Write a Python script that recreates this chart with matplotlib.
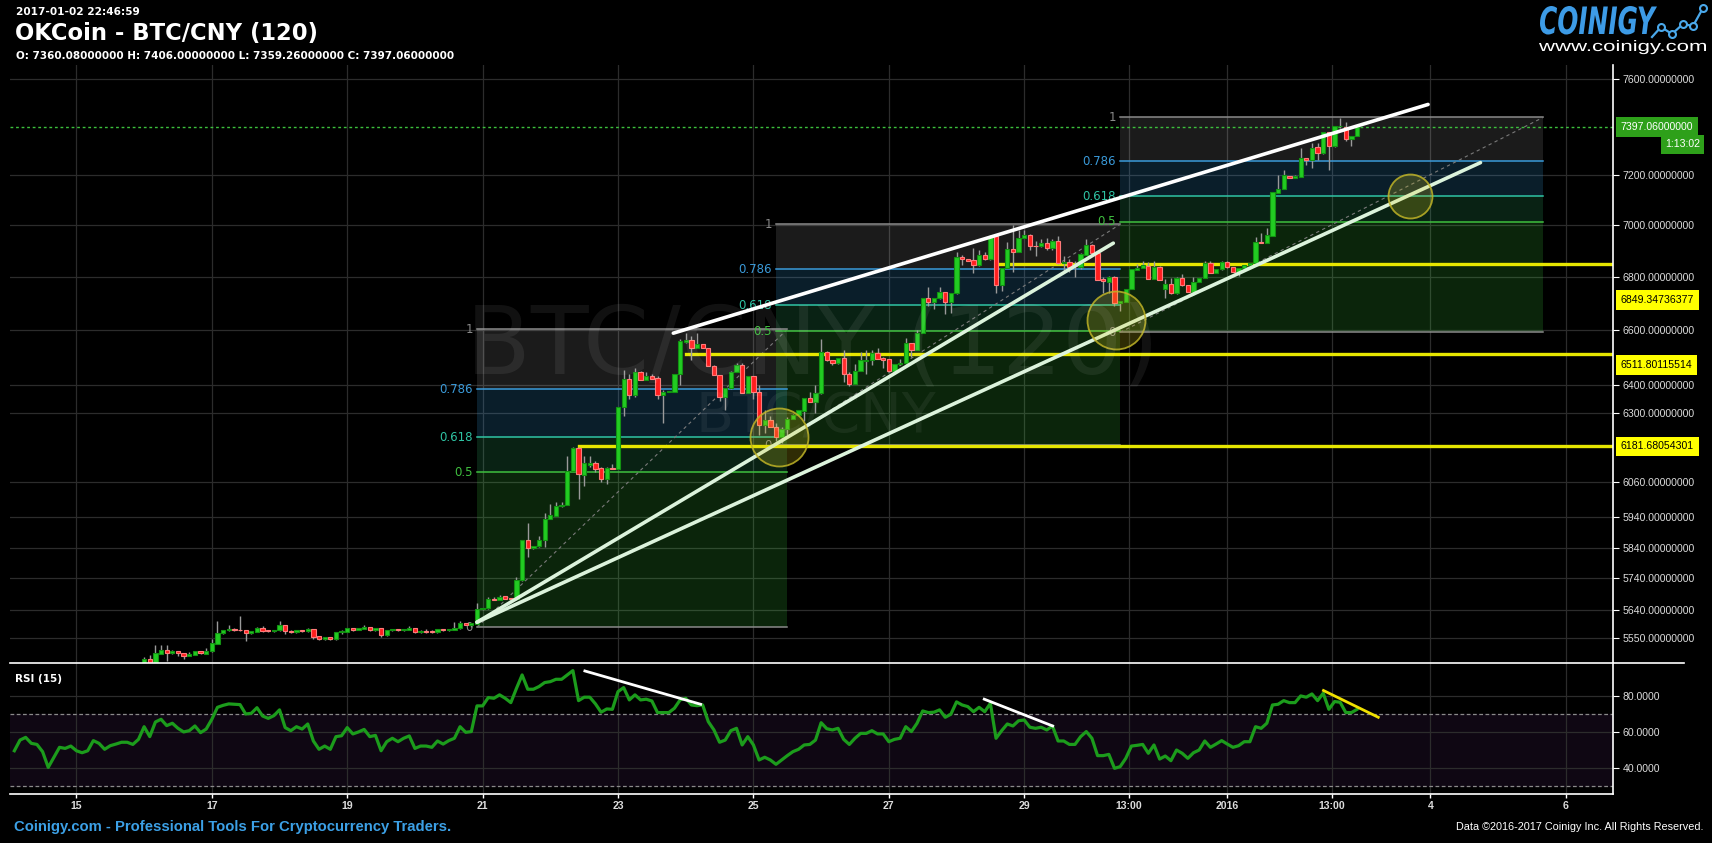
import numpy as np
import pandas as pd
import matplotlib
matplotlib.use("Agg")
import matplotlib.pyplot as plt
import matplotlib.dates as mdates
from matplotlib.lines import Line2D
from matplotlib.textpath import TextPath
from matplotlib.patches import PathPatch
from matplotlib.font_manager import FontProperties
from matplotlib.transforms import Affine2D

W, H = 1712, 843

# OKCoin BTC/CNY, 2h candles from 2016-12-16 00:00
opens = [5470, 5486, 5470, 5502, 5513, 5503, 5510, 5504, 5496, 5499, 5510, 5502,
         5509, 5533, 5565, 5574, 5578, 5576, 5575, 5565, 5569, 5582, 5574, 5571,
         5574, 5591, 5573, 5568, 5576, 5571, 5578, 5557, 5546, 5554, 5546, 5568,
         5569, 5581, 5575, 5579, 5584, 5574, 5581, 5559, 5574, 5578, 5574, 5575,
         5581, 5568, 5573, 5573, 5568, 5578, 5574, 5576, 5581, 5597, 5591, 5595,
         5641, 5644, 5673, 5671, 5682, 5676, 5672, 5735, 5864, 5838, 5845, 5864,
         5935, 5945, 5977, 5981, 6098, 6176, 6084, 6119, 6123, 6106, 6071, 6107,
         6105, 6319, 6422, 6363, 6447, 6417, 6431, 6423, 6363, 6375, 6375, 6439,
         6556, 6564, 6534, 6548, 6534, 6468, 6435, 6357, 6387, 6447, 6471, 6371,
         6431, 6375, 6255, 6275, 6249, 6213, 6243, 6279, 6291, 6307, 6351, 6339,
         6369, 6520, 6489, 6477, 6496, 6437, 6404, 6450, 6487, 6488, 6514, 6497,
         6492, 6450, 6473, 6477, 6551, 6527, 6588, 6718, 6706, 6718, 6741, 6706,
         6737, 6877, 6867, 6863, 6844, 6883, 6867, 6959, 6767, 6833, 6906, 6897,
         6950, 6963, 6920, 6917, 6932, 6911, 6939, 6855, 6856, 6843, 6839, 6884,
         6924, 6891, 6792, 6782, 6801, 6699, 6706, 6753, 6826, 6833, 6842, 6792,
         6839, 6754, 6773, 6737, 6795, 6767, 6744, 6782, 6795, 6852, 6814, 6829,
         6858, 6836, 6820, 6833, 6845, 6852, 6936, 6930, 6959, 7130, 7146, 7197,
         7190, 7193, 7270, 7262, 7314, 7289, 7376, 7317, 7400, 7397, 7347, 7360.08]
highs = [5491, 5498, 5529, 5529, 5529, 5512, 5511, 5505, 5507, 5511, 5511, 5518,
         5546, 5604, 5577, 5590, 5583, 5621, 5576, 5572, 5584, 5588, 5575, 5577,
         5604, 5592, 5574, 5577, 5577, 5581, 5579, 5558, 5555, 5555, 5570, 5575,
         5583, 5582, 5582, 5590, 5585, 5582, 5582, 5577, 5579, 5579, 5579, 5587,
         5582, 5574, 5578, 5574, 5579, 5579, 5579, 5601, 5604, 5598, 5598, 5660,
         5646, 5681, 5681, 5687, 5683, 5677, 5744, 5866, 5920, 5846, 5878, 5956,
         5985, 5993, 5990, 6150, 6180, 6180, 6147, 6147, 6132, 6112, 6112, 6122,
         6320, 6453, 6440, 6460, 6449, 6447, 6437, 6432, 6380, 6377, 6440, 6565,
         6590, 6577, 6590, 6549, 6535, 6470, 6436, 6388, 6450, 6480, 6480, 6432,
         6432, 6400, 6310, 6290, 6265, 6250, 6285, 6294, 6310, 6352, 6375, 6400,
         6565, 6521, 6491, 6497, 6525, 6445, 6475, 6520, 6525, 6525, 6535, 6500,
         6493, 6476, 6492, 6570, 6552, 6600, 6719, 6760, 6719, 6760, 6742, 6738,
         6895, 6885, 6868, 6912, 6905, 6895, 6960, 6960, 6834, 6935, 7000, 6980,
         6980, 6964, 6940, 6945, 6950, 6945, 6956, 6880, 6870, 6860, 6890, 6945,
         6926, 6892, 6800, 6802, 6802, 6710, 6755, 6830, 6850, 6860, 6858, 6860,
         6840, 6790, 6795, 6800, 6810, 6768, 6800, 6796, 6860, 6860, 6830, 6860,
         6859, 6837, 6834, 6846, 6853, 6955, 6970, 6990, 7134, 7200, 7220, 7198,
         7200, 7310, 7271, 7330, 7330, 7377, 7377, 7401, 7434, 7420, 7362, 7406]
lows = [5466, 5466, 5466, 5500, 5479, 5501, 5494, 5486, 5495, 5498, 5502, 5501,
        5508, 5532, 5564, 5573, 5573, 5571, 5541, 5564, 5568, 5570, 5570, 5570,
        5573, 5562, 5566, 5567, 5570, 5570, 5546, 5545, 5545, 5545, 5545, 5563,
        5568, 5573, 5574, 5578, 5573, 5573, 5553, 5558, 5573, 5573, 5573, 5574,
        5567, 5567, 5565, 5567, 5567, 5573, 5573, 5575, 5580, 5590, 5586, 5594,
        5639, 5642, 5669, 5669, 5673, 5671, 5671, 5730, 5810, 5836, 5843, 5841,
        5933, 5944, 5975, 5980, 6096, 6003, 6045, 6110, 6093, 6060, 6052, 6104,
        6104, 6290, 6350, 6355, 6416, 6416, 6419, 6350, 6265, 6374, 6374, 6400,
        6550, 6490, 6533, 6533, 6467, 6434, 6340, 6310, 6386, 6446, 6370, 6370,
        6350, 6222, 6230, 6248, 6200, 6195, 6222, 6278, 6290, 6270, 6338, 6300,
        6368, 6487, 6470, 6476, 6410, 6395, 6403, 6449, 6440, 6470, 6493, 6460,
        6449, 6440, 6472, 6476, 6500, 6526, 6587, 6690, 6680, 6717, 6660, 6665,
        6736, 6845, 6860, 6815, 6843, 6866, 6866, 6740, 6745, 6832, 6820, 6896,
        6949, 6905, 6880, 6916, 6905, 6905, 6850, 6820, 6820, 6800, 6830, 6883,
        6890, 6787, 6740, 6740, 6690, 6670, 6705, 6752, 6825, 6832, 6791, 6791,
        6787, 6720, 6736, 6736, 6766, 6743, 6743, 6781, 6794, 6813, 6813, 6828,
        6835, 6819, 6805, 6832, 6844, 6851, 6929, 6929, 6958, 7129, 7145, 7189,
        7189, 7192, 7240, 7230, 7260, 7288, 7220, 7316, 7395, 7340, 7320, 7359.26]
closes = [5486, 5470, 5504, 5514, 5503, 5510, 5503, 5496, 5501, 5510, 5503, 5511,
          5535, 5567, 5575, 5578, 5574, 5574, 5565, 5571, 5582, 5571, 5571, 5576,
          5591, 5571, 5568, 5576, 5571, 5579, 5555, 5546, 5554, 5546, 5569, 5571,
          5581, 5574, 5581, 5584, 5574, 5581, 5560, 5576, 5578, 5574, 5578, 5581,
          5568, 5573, 5570, 5568, 5578, 5574, 5578, 5582, 5597, 5591, 5597, 5642,
          5645, 5672, 5670, 5679, 5674, 5672, 5735, 5864, 5838, 5845, 5864, 5936,
          5948, 5977, 5983, 6098, 6176, 6086, 6123, 6123, 6105, 6071, 6106, 6105,
          6319, 6420, 6363, 6447, 6417, 6431, 6420, 6363, 6375, 6376, 6439, 6558,
          6564, 6534, 6548, 6534, 6468, 6435, 6357, 6387, 6447, 6471, 6371, 6431,
          6375, 6255, 6275, 6249, 6213, 6243, 6279, 6293, 6309, 6351, 6339, 6369,
          6520, 6489, 6477, 6496, 6437, 6404, 6450, 6488, 6489, 6514, 6494, 6490,
          6450, 6475, 6480, 6551, 6527, 6588, 6718, 6706, 6718, 6741, 6706, 6737,
          6877, 6867, 6861, 6844, 6883, 6867, 6959, 6767, 6833, 6906, 6897, 6950,
          6963, 6917, 6918, 6930, 6911, 6939, 6855, 6858, 6839, 6840, 6888, 6924,
          6891, 6788, 6784, 6801, 6699, 6708, 6754, 6829, 6833, 6844, 6792, 6839,
          6788, 6773, 6737, 6795, 6767, 6744, 6782, 6795, 6852, 6814, 6829, 6858,
          6836, 6820, 6833, 6845, 6852, 6936, 6930, 6963, 7133, 7146, 7200, 7190,
          7196, 7268, 7262, 7310, 7289, 7376, 7317, 7400, 7402, 7347, 7361, 7397.06]

# RSI(15), one value per 2h bar, ending with the last candle
rsi = [49.7, 55.6, 57.1, 53.8, 53.2, 49.2, 40.5, 46.1, 51.6, 51.0,
       52.3, 49.7, 48.6, 49.7, 55.3, 53.8, 50.5, 52.5, 53.4, 54.4,
       54.4, 53.2, 56.0, 63.0, 57.5, 65.6, 67.1, 63.6, 64.9, 62.1,
       60.1, 60.8, 63.4, 59.7, 61.7, 67.1, 73.7, 74.8, 75.6, 75.4,
       75.2, 70.0, 70.4, 73.5, 68.9, 67.6, 69.1, 72.3, 62.5, 60.8,
       63.0, 61.7, 64.5, 55.1, 50.5, 52.3, 50.5, 57.5, 58.0, 62.5,
       59.0, 60.1, 61.5, 57.5, 58.2, 49.7, 54.7, 56.6, 54.7, 56.6,
       57.9, 51.0, 52.3, 52.3, 51.6, 55.1, 53.4, 55.3, 56.6, 63.0,
       59.9, 60.3, 74.5, 74.5, 79.1, 78.7, 80.6, 78.7, 76.3, 84.2,
       91.6, 83.7, 83.7, 85.2, 87.4, 87.9, 89.2, 89.2, 91.6, 94.0,
       77.4, 79.3, 79.3, 75.6, 71.0, 72.8, 72.6, 82.4, 84.6, 77.8,
       80.6, 77.8, 78.2, 77.2, 70.8, 70.8, 70.8, 73.2, 77.8, 78.7,
       75.0, 74.6,
       75.0, 65.8, 61.2, 54.4, 55.6, 60.8, 62.1, 52.9, 57.5, 52.9,
       44.6, 46.1, 44.6, 42.2, 44.6, 47.0, 49.2, 50.5, 52.9, 53.2,
       55.6, 65.2, 61.9, 61.2, 62.1, 56.0, 53.2, 56.6, 59.3, 59.3,
       60.8, 59.0, 59.0, 54.7, 56.0, 56.6, 63.0, 60.3, 64.9, 71.7,
       70.8, 71.0, 72.3, 68.2, 69.9, 76.7, 75.0, 74.1, 71.3, 73.7,
       71.3, 75.9, 56.6, 60.8, 64.5, 63.4, 66.3, 66.7, 62.7, 62.1,
       62.7, 61.2, 63.4, 55.1, 55.1, 53.2, 53.2, 57.5, 60.3, 56.6,
       47.0, 47.0, 47.7, 40.0, 40.9, 45.5, 52.3, 52.7, 53.2, 48.3,
       52.9, 45.1, 46.8, 44.2, 50.1, 48.3, 45.5, 48.6, 50.1, 55.1,
       51.6, 53.4, 55.3, 53.4, 51.6, 52.5, 54.7, 54.7, 63.0, 62.1,
       64.9, 75.0, 75.4, 77.4, 76.3, 76.3, 80.0, 79.3, 81.1, 77.4,
       81.5, 72.6, 76.9, 76.5, 70.8, 70.8, 72.6]

price_ticks = [5550, 5640, 5740, 5840, 5940, 6060, 6300, 6400, 6600, 6800, 7000, 7200, 7600]
rsi_ticks = [40, 60, 80]
x_ticks = ["2016-12-15", "2016-12-17", "2016-12-19", "2016-12-21", "2016-12-23",
           "2016-12-25", "2016-12-27", "2016-12-29", "2016-12-30 13:00",
           "2017-01-01", "2017-01-02 13:00", "2017-01-04", "2017-01-06"]
x_labels = ["15", "17", "19", "21", "23", "25", "27", "29", "13:00", "2016", "13:00", "4", "6"]

# drawing tools placed on the chart
fibs = [("2016-12-20 22:00", "2016-12-25 12:00", 5584, 6602),
        ("2016-12-25 08:00", "2016-12-30 10:00", 6186, 7004),
        ("2016-12-30 10:00", "2017-01-05 16:00", 6591, 7438)]
fib_levels = [0, 0.5, 0.618, 0.786, 1]
fib_labels = ["0", "0.5", "0.618", "0.786", "1"]
fib_line_colors = ["#8a8a8a", "#3fbf3f", "#2fc4a4", "#3a9ad9", "#8a8a8a"]
fib_band_colors = [(0.3, 1.0, 0.3, 0.15), (0.25, 0.9, 0.55, 0.15),
                   (0.25, 0.7, 1.0, 0.17), (1.0, 1.0, 1.0, 0.11)]

hlines = [(6849.34736377, "2016-12-28 15:00", -36),
          (6511.80115514, "2016-12-24 00:00", -11),
          (6181.68054301, "2016-12-22 10:00", 0)]
last_price = 7397.06

trend_lines = [(("2016-12-23 19:36", 6588), ("2017-01-03 23:10", 7492), "white"),
               (("2016-12-20 22:00", 5600), ("2016-12-30 07:35", 6930), "#dcf3dc"),
               (("2016-12-20 22:00", 5600), ("2017-01-04 17:45", 7251), "#dcf3dc")]
circles = [("2016-12-25 09:00", 6215, 29), ("2016-12-30 08:30", 6636, 29),
           ("2017-01-03 16:40", 7117, 22)]
rsi_lines = [(("2016-12-22 12:15", 93.8), ("2016-12-24 05:17", 75.4), "white"),
             (("2016-12-28 09:50", 78.2), ("2016-12-29 10:05", 63.4), "white"),
             (("2017-01-02 10:05", 83.0), ("2017-01-03 05:31", 68.2), "#f0e000")]

logo_x = [1652, 1661, 1672, 1683, 1693, 1703]
logo_y = [37, 27, 34, 24, 26, 8]


def t(s):
    return mdates.date2num(pd.Timestamp(s))


def fx(x):
    return x / W


def fy(y):
    return 1 - y / H


def stretched_text(txt, x0, x1, y_top, y_base, color, **font):
    # text squeezed/stretched into a pixel box (logo lettering)
    path = TextPath((0, 0), txt, size=100, prop=FontProperties(**font))
    bb = path.get_extents()
    tr = (Affine2D().translate(-bb.x0, 0)
          .scale((x1 - x0) / bb.width, (y_base - y_top) / bb.y1)
          .translate(x0, H - y_base))
    fig.add_artist(PathPatch(path, transform=tr, fc=color, ec="none"))


bar_t = mdates.date2num(pd.date_range("2016-12-16 00:00", periods=len(closes), freq="2h"))
rsi_t = mdates.date2num(pd.date_range(end="2017-01-02 22:00", periods=len(rsi), freq="2h"))

plt.rcParams["font.family"] = ["DejaVu Sans"]
fig = plt.figure(figsize=(W / 100, H / 100), dpi=100, facecolor="black")
ax = fig.add_axes([fx(10), fy(663), (1612.6 - 10) / W, (663 - 65) / H])
ax2 = fig.add_axes([fx(10), fy(794), (1612.6 - 10) / W, (794 - 663) / H], sharex=ax)

for a in (ax, ax2):
    a.set_facecolor("black")
    for s in ("top", "left", "bottom"):
        a.spines[s].set_visible(False)
    a.spines["right"].set_color("white")
    a.spines["right"].set_linewidth(1.2)
    a.yaxis.tick_right()
    a.set_xticks([t(s) for s in x_ticks])
    a.grid(True, color="#2c2c2c", lw=0.9, zorder=0)
    a.set_axisbelow(True)
ax2.spines["bottom"].set_visible(True)
ax2.spines["bottom"].set_color("white")
ax2.spines["bottom"].set_linewidth(1.2)

# main price panel
ax.set_yscale("log")
ax.set_ylim(5473, 7660)
ax.set_xlim(t("2016-12-14 00:27"), t("2017-01-06 16:35"))
ax.yaxis.set_major_locator(matplotlib.ticker.FixedLocator(price_ticks))
ax.yaxis.set_minor_locator(matplotlib.ticker.NullLocator())
ax.yaxis.set_major_formatter(matplotlib.ticker.FuncFormatter(lambda v, p: f"{v:.8f}"))
ax.tick_params(axis="y", direction="out", length=4, width=0.8, colors="white",
               labelcolor="#dcdcdc", labelsize=7.6, pad=3)
for lab in ax.get_yticklabels():
    lab.set_family(["Liberation Sans", "DejaVu Sans"])
ax.tick_params(axis="x", length=0, labelbottom=False)

# watermarks
fig.text(fx(813), fy(374), "BTC/CNY (120)", ha="center", va="baseline",
         fontsize=68, color="white", alpha=0.07, zorder=0)
fig.text(fx(816), fy(432), "BTC/CNY", ha="center", va="baseline",
         fontsize=40, color="white", alpha=0.06, zorder=0)

# fibonacci retracements
for x0, x1, p0, p1 in fibs:
    a0, a1 = t(x0), t(x1)
    prices = [p0 + lv * (p1 - p0) for lv in fib_levels]
    for k in range(len(prices) - 1):
        ax.fill_between([a0, a1], prices[k], prices[k + 1], color=fib_band_colors[k],
                        lw=0, zorder=1)
    for pr, lab, col in zip(prices, fib_labels, fib_line_colors):
        ax.plot([a0, a1], [pr, pr], color=col, lw=1.1, zorder=2)
        ax.annotate(lab, xy=(a0, pr), xytext=(-3, 0), textcoords="offset points",
                    ha="right", va="center", color=col, fontsize=8.5, zorder=2)
    ax.plot([a0, a1], [p0, p1], color="#7a7a7a", lw=0.8, ls=(0, (3, 3)), zorder=2)

# horizontal support lines
for val, start, dy in hlines:
    ax.plot([t(start), ax.get_xlim()[1]], [val, val], color="#e6e600", lw=2.4, zorder=2.5)
    ax.annotate(f"{val:.8f}", xy=(1, val), xycoords=("axes fraction", "data"),
                xytext=(6, dy * 0.72), textcoords="offset points", ha="left", va="center",
                fontsize=7.6, color="black", family=["Liberation Sans", "DejaVu Sans"],
                bbox=dict(boxstyle="square,pad=0.45", fc="#ffff00", ec="none"),
                annotation_clip=False, zorder=10)

ax.axhline(last_price, color="#3cc03c", lw=1, ls=(0, (2, 2)), zorder=2.5)
ax.annotate(f"{last_price:.8f}", xy=(1, last_price), xycoords=("axes fraction", "data"),
            xytext=(6, 0), textcoords="offset points", ha="left", va="center",
            fontsize=7.6, color="white", family=["Liberation Sans", "DejaVu Sans"],
            bbox=dict(boxstyle="square,pad=0.45", fc="#2ea01a", ec="none"),
            annotation_clip=False, zorder=10)
ax.annotate("1:13:02", xy=(1, last_price), xycoords=("axes fraction", "data"),
            xytext=(63, -12.5), textcoords="offset points", ha="right", va="center",
            fontsize=7.6, color="white", family=["Liberation Sans", "DejaVu Sans"],
            bbox=dict(boxstyle="square,pad=0.4", fc="#2ea01a", ec="none"),
            annotation_clip=False, zorder=10)

# candlesticks
o = np.array(opens)
c = np.array(closes)
up = c >= o
ax.vlines(bar_t, lows, highs, color="#9a9a9a", lw=1, zorder=3)
bw = 4.3 / 67.7
ax.bar(bar_t[up], (c - o)[up], bottom=o[up], width=bw, color="#22cc22",
       edgecolor="#129212", lw=0.8, zorder=4)
ax.bar(bar_t[~up], (c - o)[~up], bottom=o[~up], width=bw, color="#ff1e1e",
       edgecolor="#ff7a7a", lw=0.8, zorder=4)

# trend lines and circles
for (s0, p0), (s1, p1), col in trend_lines:
    ax.plot([t(s0), t(s1)], [p0, p1], color=col, lw=2.6, solid_capstyle="round", zorder=5)
for s, pr, r in circles:
    ax.scatter([t(s)], [pr], s=(2 * r * 0.72) ** 2, facecolor=(0.85, 0.8, 0.1, 0.22),
               edgecolor=(0.75, 0.7, 0.15, 0.85), lw=1.3, zorder=6)

# RSI panel
ax2.set_ylim(25.8, 98.2)
ax2.axhspan(30, 70, color="#0f0713", zorder=0)
ax2.yaxis.set_major_locator(matplotlib.ticker.FixedLocator(rsi_ticks))
ax2.yaxis.set_major_formatter(matplotlib.ticker.FuncFormatter(lambda v, p: f"{v:.4f}"))
ax2.tick_params(axis="y", direction="out", length=4, width=0.8, colors="white",
                labelcolor="#dcdcdc", labelsize=7.6, pad=3)
ax2.tick_params(axis="x", direction="out", length=3, width=1, colors="white",
                labelcolor="#dcdcdc", labelsize=7.6, pad=2)
ax2.set_xticklabels(x_labels, fontweight="bold")
for lab in list(ax2.get_yticklabels()) + list(ax2.get_xticklabels()):
    lab.set_family(["Liberation Sans", "DejaVu Sans"])
for lv in (30, 70):
    ax2.axhline(lv, color="#8a8a8a", lw=0.9, ls=(0, (3, 2)), zorder=1)
ax2.plot(rsi_t, rsi, color="#1c9c1c", lw=2.3, zorder=3)
for (s0, v0), (s1, v1), col in rsi_lines:
    ax2.plot([t(s0), t(s1)], [v0, v1], color=col, lw=2, zorder=4)

# separator line
fig.add_artist(Line2D([fx(10), fx(1684)], [fy(663), fy(663)], color="white", lw=1.2))

# header
fig.text(fx(16), fy(15), "2017-01-02 22:46:59", color="white", fontsize=7.6,
         fontweight="bold", va="baseline")
fig.text(fx(15), fy(40), "OKCoin - BTC/CNY (120)", color="white", fontsize=16.3,
         fontweight="bold", va="baseline")
fig.text(fx(16), fy(59), "O: 7360.08000000 H: 7406.00000000 L: 7359.26000000 C: 7397.06000000",
         color="white", fontsize=7.5, fontweight="bold", va="baseline")
fig.text(fx(15), fy(682), "RSI (15)", color="white", fontsize=7.5, fontweight="bold",
         va="baseline")

# logo
stretched_text("COINIGY", 1540, 1657, 6, 34, "#3d9be6",
               family="DejaVu Sans", weight="bold", style="italic")
stretched_text("www.coinigy.com", 1539, 1706, 40, 51, "white",
               family="Liberation Sans")
fig.add_artist(Line2D([fx(v) for v in logo_x], [fy(v) for v in logo_y], color="#4aa8ea",
                      lw=1.6))
fig.add_artist(Line2D([fx(v) for v in logo_x[1:]], [fy(v) for v in logo_y[1:]], ls="none",
                      marker="o", ms=5, mfc="black", mec="#4aa8ea", mew=1.5))

# footer
fig.text(fx(14), fy(831), "Coinigy.com - Professional Tools For Cryptocurrency Traders.",
         color="#3ca0e6", fontsize=10.7, fontweight="bold", va="baseline",
         family=["Liberation Sans", "DejaVu Sans"])
fig.text(fx(1704), fy(830), "Data \u00a92016-2017 Coinigy Inc. All Rights Reserved.",
         color="white", fontsize=7.8, ha="right", va="baseline",
         family=["Liberation Sans", "DejaVu Sans"])

fig.savefig("out.png", dpi=100, facecolor="black")
